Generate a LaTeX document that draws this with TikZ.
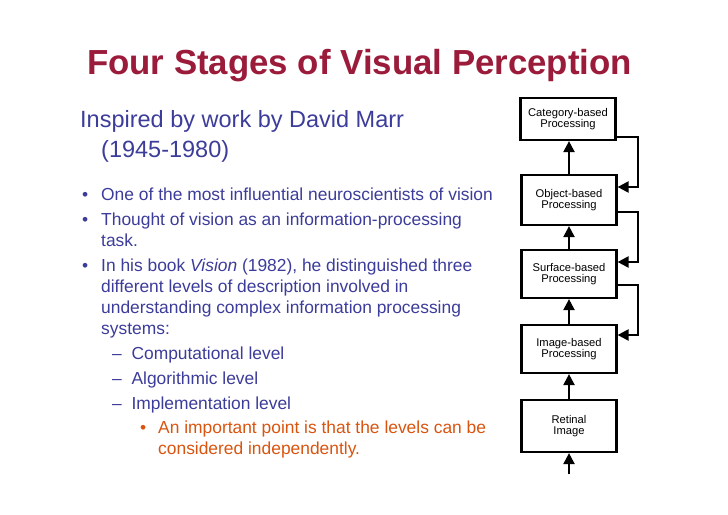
\documentclass[tikz,border=0pt]{standalone}
\usepackage{fontspec}
\setmainfont{Liberation Sans}
\usetikzlibrary{arrows.meta}
\definecolor{ttl}{HTML}{9B1B3A}
\definecolor{bl}{HTML}{3C3C9A}
\definecolor{orng}{HTML}{D9540F}
\begin{document}
\begin{tikzpicture}[x=1pt,y=-1pt,
  txt/.style={anchor=base west,inner sep=0pt,text=bl,font=\fontsize{17.4}{20}\selectfont},
  box/.style={draw,line width=2.2pt,minimum width=95pt,align=center,font=\fontsize{11.2}{11.5}\selectfont,inner sep=0pt},
  arr/.style={line width=2.2pt,-{Triangle[length=11pt,width=11pt]}}]
\useasboundingbox (0,0) rectangle (728,514);
\node[anchor=base west,inner sep=0pt,text=ttl,font=\bfseries\fontsize{34.8}{38}\selectfont] (title) at (87,74) {Four Stages of Visual Perception};
\node[txt,font=\fontsize{23.5}{26}\selectfont] (i1) at (80,127) {Inspired by work by David Marr};
\node[txt,font=\fontsize{23.5}{26}\selectfont] (i2) at (101,157) {(1945-1980)};
\node[txt] (b1d) at (82,200) {•};
\node[txt] (b1) at (101,200) {One of the most influential neuroscientists of vision};
\node[txt] (b2d) at (82,225) {•};
\node[txt] (b2) at (101,225) {Thought of vision as an information-processing};
\node[txt] (b2b) at (101,246) {task.};
\node[txt] (b3d) at (82,271) {•};
\node[txt] (b3) at (101,271) {In his book \textit{Vision} (1982), he distinguished three};
\node[txt] (b3b) at (101,292) {different levels of description involved in};
\node[txt] (b3c) at (101,313) {understanding complex information processing};
\node[txt] (b3e) at (101,334) {systems:};
\node[txt] (d1) at (112,359) {–\ \ Computational level};
\node[txt] (d2) at (112,384) {–\ \ Algorithmic level};
\node[txt] (d3) at (112,409) {–\ \ Implementation level};
\node[txt,text=orng] (e1d) at (140,433) {•};
\node[txt,text=orng] (e1) at (158,433) {An important point is that the levels can be};
\node[txt,text=orng] (e2) at (158,454) {considered independently.};
% diagram
\node[box,minimum height=42pt] (cat) at (568,119) {Category-based\\Processing};
\node[box,minimum height=50pt] (obj) at (569,200) {Object-based\\Processing};
\node[box,minimum height=48pt] (sur) at (569,274) {Surface-based\\Processing};
\node[box,minimum height=48pt] (img) at (569,349) {Image-based\\Processing};
\node[box,minimum height=52pt] (ret) at (569,426) {Retinal\\Image};
\coordinate (in) at (569,474);
\draw[arr] (in) -- (ret);
\draw[arr] (ret) -- (img);
\draw[arr] (img) -- (sur);
\draw[arr] (sur) -- (obj);
\draw[arr] (obj.north) -- (obj.north|-cat.south);
\draw[arr] (cat.east|-0,137) -- (638,137) |- (obj.east|-0,187);
\draw[arr] (obj.east|-0,212) -- (638,212) |- (sur.east|-0,262);
\draw[arr] (sur.east|-0,285) -- (638,285) |- (img.east|-0,335);
\end{tikzpicture}
\end{document}
